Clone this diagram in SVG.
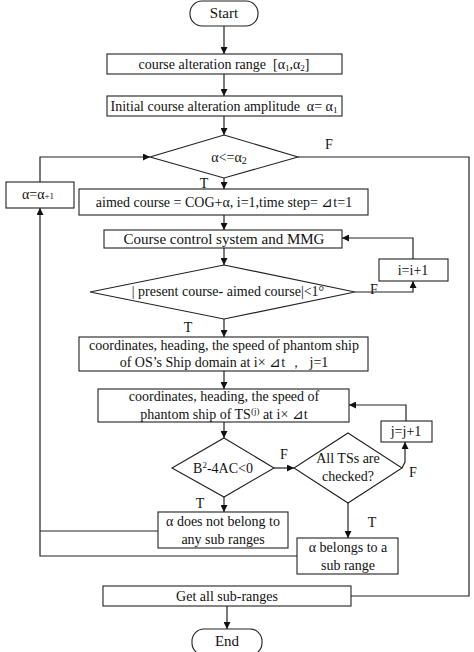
<svg xmlns="http://www.w3.org/2000/svg" width="474" height="652" viewBox="0 0 474 652" font-family="Liberation Serif, DejaVu Serif, serif">
<style>
text{font-family:"Liberation Serif","DejaVu Serif",serif;font-size:14px;fill:#111;text-anchor:middle;white-space:pre}
.n{fill:#fff;stroke:#222;stroke-width:1.1}
.c{fill:none;stroke:#222;stroke-width:1.2}
.lb{font-size:15px}
</style>
<defs>
<marker id="a" viewBox="0 0 10 10" refX="10" refY="5" markerWidth="7" markerHeight="7" markerUnits="userSpaceOnUse" orient="auto">
<path d="M0,0 L10,5 L0,10 z" fill="#111"/>
</marker>
</defs>
<rect width="474" height="652" fill="#fff"/>
<g id="connectors">
<path class="c" d="M224,26 V54" marker-end="url(#a)"/>
<path class="c" d="M224,74 V96" marker-end="url(#a)"/>
<path class="c" d="M224,116 V135" marker-end="url(#a)"/>
<path class="c" d="M224,178 V189" marker-end="url(#a)"/>
<path class="c" d="M224,215 V230" marker-end="url(#a)"/>
<path class="c" d="M224,248 V265" marker-end="url(#a)"/>
<path class="c" d="M224,319 V337" marker-end="url(#a)"/>
<path class="c" d="M224,371 V389" marker-end="url(#a)"/>
<path class="c" d="M224,422 V438" marker-end="url(#a)"/>
<path class="c" d="M224,497 V512" marker-end="url(#a)"/>
<path class="c" d="M274,468 H294" marker-end="url(#a)"/>
<path class="c" d="M348,503 V538" marker-end="url(#a)"/>
<path class="c" d="M227,606 V629" marker-end="url(#a)"/>
<path class="c" d="M40,182 V157 H150" marker-end="url(#a)"/>
<path class="c" d="M158,531 H40"/>
<path class="c" d="M297,556 H40 V208" marker-end="url(#a)"/>
<path class="c" d="M298,157 H469 V596 H351"/>
<path class="c" d="M413,259 V238 H342" marker-end="url(#a)"/>
<path class="c" d="M355,292 H413 V281" marker-end="url(#a)"/>
<path class="c" d="M406,421 V405 H349" marker-end="url(#a)"/>
<path class="c" d="M402,468 L405,462 V442" marker-end="url(#a)"/>
<text x="329" y="149">F</text>
<text x="204" y="188">T</text>
<text x="374" y="294">F</text>
<text x="188" y="332">T</text>
<text x="284" y="459">F</text>
<text x="413" y="477">F</text>
<text x="200" y="508">T</text>
<text x="372" y="527">T</text>
</g>
<g id="start">
<rect class="n" x="190" y="1" width="68" height="25" rx="12"/>
<text x="224" y="18" class="lb">Start</text>
</g>
<g id="range">
<rect class="n" x="107" y="54" width="235" height="20"/>
<text x="224" y="69">course alteration range  [α<tspan font-size="9" dy="2">1</tspan><tspan dy="-2">,α</tspan><tspan font-size="9" dy="2">2</tspan><tspan dy="-2">]</tspan></text>
</g>
<g id="initial">
<rect class="n" x="107" y="96" width="235" height="20"/>
<text x="224" y="111">Initial course alteration amplitude  α= α<tspan font-size="9" dy="2">1</tspan></text>
</g>
<g id="cond1">
<polygon class="n" points="224,135 298,157 224,178 150,157"/>
<text x="229" y="162" font-size="13.5" fill="#333">α&lt;=α<tspan font-size="10" dy="2">2</tspan></text>
</g>
<g id="incr">
<rect class="n" x="6" y="182" width="68" height="26"/>
<text x="38" y="199" font-size="11">α=α<tspan font-size="9">+1</tspan></text>
</g>
<g id="aimed">
<rect class="n" x="79" y="189" width="289" height="26"/>
<text x="224" y="207" font-size="14.5">aimed course = COG+α, i=1,time step= ⊿t=1</text>
</g>
<g id="control">
<rect class="n" x="104" y="230" width="238" height="18"/>
<text x="224" y="244" class="lb">Course control system and MMG</text>
</g>
<g id="iinc">
<rect class="n" x="379" y="259" width="69" height="22"/>
<text x="413" y="275">i=i+1</text>
</g>
<g id="cond2">
<polygon class="n" points="224,265 355,292 224,319 90,292"/>
<text x="228" y="296" font-size="14.5">| present course- aimed course|&lt;1°</text>
</g>
<g id="os">
<rect class="n" x="79" y="337" width="289" height="34"/>
<text x="224" y="350">coordinates, heading, the speed of phantom ship</text>
<text x="224" y="367">of OS’s Ship domain at i× ⊿t ，  j=1</text>
</g>
<g id="ts">
<rect class="n" x="98" y="389" width="251" height="33"/>
<text x="224" y="401">coordinates, heading, the speed of</text>
<text x="224" y="419">phantom ship of TS<tspan font-size="9" dy="-5">(j)</tspan><tspan dy="5"> at i× ⊿t</tspan></text>
</g>
<g id="jinc">
<rect class="n" x="381" y="421" width="51" height="21"/>
<text x="406" y="436">j=j+1</text>
</g>
<g id="cond3">
<polygon class="n" points="224,438 274,468 224,497 172,468"/>
<text x="223" y="473">B<tspan font-size="9" dy="-5">2</tspan><tspan dy="5">-4AC&lt;0</tspan></text>
</g>
<g id="cond4">
<polygon class="n" points="348,433 402,468 348,503 294,468"/>
<text x="348" y="463">All TSs are</text>
<text x="348" y="481">checked?</text>
</g>
<g id="notbelong">
<rect class="n" x="158" y="512" width="130" height="36"/>
<text x="223" y="526">α does not belong to</text>
<text x="223" y="544">any sub ranges</text>
</g>
<g id="belong">
<rect class="n" x="297" y="538" width="101" height="36"/>
<text x="348" y="552">α belongs to a</text>
<text x="348" y="570">sub range</text>
</g>
<g id="getall">
<rect class="n" x="103" y="586" width="248" height="20"/>
<text x="227" y="601">Get all sub-ranges</text>
</g>
<g id="end">
<rect class="n" x="192" y="629" width="70" height="26" rx="12"/>
<text x="227" y="646" class="lb">End</text>
</g>
</svg>
